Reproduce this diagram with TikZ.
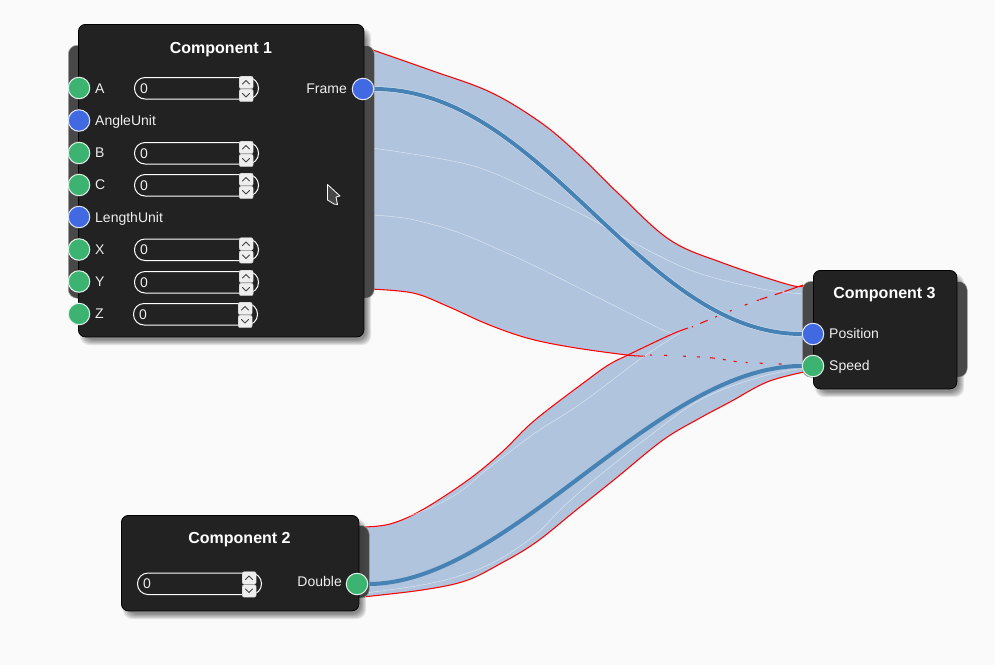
\documentclass[tikz,border=0pt]{standalone}
\usepackage{fontspec}
\setmainfont{Liberation Sans}
\pgfdeclarelayer{paper}
\pgfdeclarelayer{flows}
\pgfsetlayers{paper,flows,main}
\definecolor{pagebg}{HTML}{FAFAFA}
\definecolor{bodyc}{HTML}{222222}
\definecolor{panelc}{HTML}{484848}
\definecolor{flowc}{HTML}{B0C4DE}
\definecolor{strongc}{HTML}{4682B4}
\definecolor{portg}{HTML}{3CB371}
\definecolor{portb}{HTML}{4169E1}
\definecolor{labelc}{HTML}{EEEEEE}
\definecolor{btnc}{HTML}{EEEEEE}
\tikzset{
  compbody/.style={draw=black,line width=.8pt,fill=bodyc,rounded corners=7pt,inner sep=0pt},
  comppanel/.style={draw=gray!70,line width=.5pt,fill=panelc,rounded corners=9pt,inner sep=0pt},
  porta/.style={circle,draw=white!85!portg,line width=1pt,fill=portg,minimum size=21.5pt,inner sep=0pt},
  portbl/.style={circle,draw=white!85!portb,line width=1pt,fill=portb,minimum size=21.5pt,inner sep=0pt},
  ttl/.style={text=white,font=\fontsize{16}{18}\selectfont\bfseries,anchor=base,inner sep=0pt},
  lbl/.style={text=labelc,font=\fontsize{14}{16}\selectfont,anchor=base west,inner sep=0pt},
  lblr/.style={text=labelc,font=\fontsize{14}{16}\selectfont,anchor=base east,inner sep=0pt},
  pill/.style={draw=white,line width=1pt,fill=bodyc,rounded corners=10.5pt,inner sep=0pt,minimum width=124pt,minimum height=21.5pt},
  spinbtn/.style={fill=btnc,draw=btnc!80!black,line width=.4pt,rounded corners=2pt,inner sep=0pt,minimum width=14pt,minimum height=12.5pt},
  chev/.style={draw=black!75,line width=.9pt,line cap=round,line join=round},
  flowfill/.style={fill=flowc,draw=none},
  rededge/.style={draw=red,line width=1.05pt},
  thinline/.style={draw=white,line width=.5pt,opacity=.55},
  strong/.style={draw=strongc,line width=4pt},
}
\newcommand{\softshadow}[4]{%
  \foreach \k in {0,1,...,5}{%
    \fill[black,opacity=.09,rounded corners=9pt]
      (#1+2+\k,#2+4+\k) rectangle (#3+7-\k,#4+8-\k);
  }}
\newcommand{\spinrow}[3]{% name, left x, top y
  \node[pill,anchor=north west] (#1pill) at (#2,#3) {};
  \node[text=labelc,font=\fontsize{14}{16}\selectfont,anchor=base west,inner sep=0pt] (#1val) at (#2+6,#3+16) {0};
  \node[spinbtn,anchor=north west] (#1up) at (#2+105,#3-1) {};
  \node[spinbtn,anchor=north west] (#1dn) at (#2+105,#3+12) {};
  \draw[chev] (#2+108.5,#3+7) -- (#2+112,#3+3.5) -- (#2+115.5,#3+7);
  \draw[chev] (#2+108.5,#3+16.5) -- (#2+112,#3+20) -- (#2+115.5,#3+16.5);
}
\begin{document}
\begin{tikzpicture}[x=1pt,y=-1pt]
\useasboundingbox (0,0) rectangle (995,665);
\begin{pgfonlayer}{paper}
\fill[pagebg] (0,0) rectangle (995,665);
\end{pgfonlayer}

% shadows
\softshadow{78}{24}{364}{337}
\softshadow{121}{515}{359}{611}
\softshadow{813}{270}{957}{389}

% panels
\node[comppanel,anchor=north west,minimum width=306pt,minimum height=253pt] (p1) at (68,45) {};
\node[comppanel,anchor=north west,minimum width=40pt,minimum height=73pt,left color=bodyc,right color=panelc] (p2) at (329,525) {};
\node[comppanel,anchor=north west,minimum width=165pt,minimum height=96pt] (p3) at (802,281) {};

% bodies
\node[compbody,anchor=north west,minimum width=285.5pt,minimum height=312.5pt] (c1) at (78,24) {};
\node[compbody,anchor=north west,minimum width=237.5pt,minimum height=95.5pt] (c2) at (121,515) {};
\node[compbody,anchor=north west,minimum width=143.5pt,minimum height=118.5pt] (c3) at (813,270) {};

% titles
\node[ttl] (t1) at (221,53) {Component 1};
\node[ttl] (t2) at (239.5,543) {Component 2};
\node[ttl] (t3) at (884.5,298) {Component 3};

% spin boxes
\spinrow{sa}{134}{77}
\spinrow{sb}{134}{142}
\spinrow{sc}{134}{174}
\spinrow{sx}{134}{238.5}
\spinrow{sy}{134}{271}
\spinrow{sz}{133}{303}
\spinrow{sd}{137}{572.5}

% ports
\node[porta] (pa) at (79,88) {};
\node[portbl] (pau) at (79,120.5) {};
\node[porta] (pb) at (79,153) {};
\node[porta] (pc) at (79,185) {};
\node[portbl] (plu) at (79,217) {};
\node[porta] (px) at (79,249.5) {};
\node[porta] (py) at (79,281.5) {};
\node[porta] (pz) at (79,314) {};
\node[portbl] (frame) at (363,89) {};
\node[porta] (double) at (357,584) {};
\node[portbl] (position) at (813,334) {};
\node[porta] (speed) at (813,366) {};

% labels
\node[lbl] (la) at (95,93) {A};
\node[lbl] (lau) at (95,125) {AngleUnit};
\node[lbl] (lb) at (95,157.5) {B};
\node[lbl] (lc) at (95,189.5) {C};
\node[lbl] (llu) at (95,222) {LengthUnit};
\node[lbl] (lx) at (95,254) {X};
\node[lbl] (ly) at (95,286) {Y};
\node[lbl] (lz) at (95,318.5) {Z};
\node[lblr] (lf) at (347,93) {Frame};
\node[lblr] (ld) at (342,586) {Double};
\node[lbl] (lp) at (829,338) {Position};
\node[lbl] (ls) at (829,370) {Speed};

% cursor
\draw[fill=black!72,draw=white,line width=.8pt,line join=round]
  (327.5,184.5) -- (340,196) -- (336,197) -- (337.5,204.5) -- (334,204) -- (327.5,200) -- cycle;

\begin{pgfonlayer}{flows}
% ribbons
\fill[flowfill] plot[smooth,tension=.6] coordinates {(370,49) (430,70) (490,92) (540,122) (577,153) (620,195) (670,240) (723,263) (790,285) (806,285)}
  -- plot[smooth,tension=.6] coordinates {(806,365) (780,364) (740,362) (713,358) (680,356) (643,355) (627,355) (570,347) (527,338) (487,324) (447,306) (413,293) (370,289)} -- cycle;
\fill[flowfill] plot[smooth,tension=.6] coordinates {(362,527) (390,524) (422,510) (468,480) (502,452) (535,420) (590,378) (610,364) (630,354) (670,335) (687,328) (713,318) (753,302) (783,292) (806,285)}
  -- plot[smooth,tension=.6] coordinates {(806,372) (767,382) (730,402) (700,418) (663,440) (615,479) (575,511) (535,543) (498,565) (465,581) (422,590) (362,597)} -- cycle;
% ribbon outlines
\draw[rededge] plot[smooth,tension=.6] coordinates {(370,49) (430,70) (490,92) (540,122) (577,153) (620,195) (670,240) (723,263) (790,285) (804,285)};
\draw[rededge] plot[smooth,tension=.6] coordinates {(370,289) (413,293) (447,306) (487,324) (527,338) (570,347) (627,355) (645,356)};
\draw[rededge,dash pattern=on 2pt off 12pt on 3pt off 16pt on 3pt off 11pt on 3pt off 10pt on 5pt off 8pt on 3pt off 8pt on 3pt off 9pt] plot[smooth,tension=.6] coordinates {(650,355) (680,356) (713,358) (740,362) (780,364) (803,365)};
\draw[rededge] plot[smooth,tension=.6] coordinates {(362,527) (390,524) (422,510) (468,480) (502,452) (535,420) (590,378) (610,364) (630,354) (670,335) (688,328)};
\draw[rededge,dash pattern=on 1pt off 8pt on 8pt off 8pt on 2pt off 14pt on 2pt off 14pt on 3pt off 10pt on 2pt] plot[smooth,tension=.6] coordinates {(692,327) (713,318) (753,302) (783,292) (803,285)};
\draw[rededge] plot[smooth,tension=.6] coordinates {(362,597) (422,590) (465,581) (498,565) (535,543) (575,511) (615,479) (663,440) (700,418) (730,402) (767,382) (804,372)};
% thin links
\draw[thinline] plot[smooth,tension=.6] coordinates {(372,148) (470,165) (537,193) (587,217) (623,237) (690,270) (757,288) (803,294)};
\draw[thinline] plot[smooth,tension=.6] coordinates {(372,215) (410,219) (457,232) (500,250) (537,267) (603,300) (663,330) (672,333)};
\draw[thinline] plot[smooth,tension=.6] coordinates {(365,526) (412,515) (455,495) (490,467) (535,433) (562,416) (590,397) (643,357) (680,333)};
\draw[thinline] plot[smooth,tension=.6] coordinates {(365,593) (422,585) (462,575) (498,560) (535,535) (562,508) (588,485) (615,463) (643,441) (700,400) (760,377) (804,368)};
% strong links
\draw[draw=white,line width=5pt,opacity=.55] (frame) .. controls (545,89) and (640,334) .. (position);
\draw[strong] (frame) .. controls (545,89) and (640,334) .. (position);
\draw[strong] (double) .. controls (509,584) and (656,366) .. (speed);
\end{pgfonlayer}
\end{tikzpicture}
\end{document}
